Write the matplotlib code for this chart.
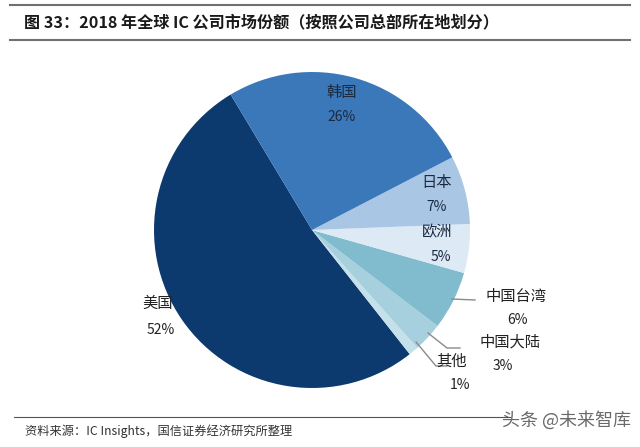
import matplotlib.pyplot as plt

plt.rcParams['font.family'] = ['Noto Sans CJK SC', 'DejaVu Sans']

# 2018 global IC market share by HQ location (%)
regions = ['美国', '其他', '中国大陆', '中国台湾', '欧洲', '日本', '韩国']
shares = [52, 1, 3, 6, 5, 7, 26]
colors = ['#0d3a6e', '#c4e0ea', '#a6d0dd', '#80bccd', '#dde9f5', '#a9c7e5', '#3b78b9']

title = '图 33：2018 年全球 IC 公司市场份额（按照公司总部所在地划分）'
source = '资料来源：IC Insights，国信证券经济研究所整理'

fig = plt.figure(figsize=(6.4, 4.47), dpi=100)
ax = fig.add_axes([0, 0, 1, 1])

H = 447
ax.pie(shares, colors=colors, startangle=121, counterclock=True,
       center=(312, H - 230), radius=158,
       wedgeprops=dict(linewidth=0))
ax.set_xlim(0, 640)
ax.set_ylim(0, 447)
ax.set_aspect('equal')
ax.axis('off')

# labels (pixel positions from the top-left)
lab = {
    '韩国': (342, 92, 342, 117, '#1a2a40'),
    '日本': (437, 182, 437, 207, '#1a2a40'),
    '欧洲': (437, 232, 441, 257, '#1a2a40'),
    '中国台湾': (516, 296, 518, 320, '#222222'),
    '中国大陆': (510, 342, 503, 366, '#222222'),
    '其他': (452, 361, 460, 385, '#222222'),
    '美国': (158, 303, 161, 330, '#222222'),
}
for name, val in zip(regions, shares):
    x1, y1, x2, y2, c = lab[name]
    ax.text(x1, H - y1, name, ha='center', va='center', fontsize=11, color=c)
    ax.text(x2, H - y2, f'{val}%', ha='center', va='center', fontsize=10, color=c)

# leader lines
lc = '#8a8a8a'
ax.plot([452, 475], [H - 299, H - 300], color=lc, lw=1)
ax.plot([428, 447, 460], [H - 333, H - 348, H - 348], color=lc, lw=1)
ax.plot([416, 436, 447], [H - 342, H - 366, H - 366], color=lc, lw=1)

# title and frame lines
ax.plot([10, 630], [H - 5, H - 5], color='#707070', lw=1.5)
ax.plot([10, 630], [H - 40, H - 40], color='#707070', lw=1.5)
ax.text(24, H - 22, title, ha='left', va='center', fontsize=11.6,
        fontweight='bold', color='#1a1a1a')
ax.plot([14, 510], [H - 417, H - 417], color='#555555', lw=0.8)
ax.text(25, H - 431, source, ha='left', va='center', fontsize=8.8, color='#333333')
ax.text(631, H - 420, '头条 @未来智库', ha='right', va='center', fontsize=13,
        color='#444444', alpha=0.8)

fig.savefig('out.png', dpi=100)
